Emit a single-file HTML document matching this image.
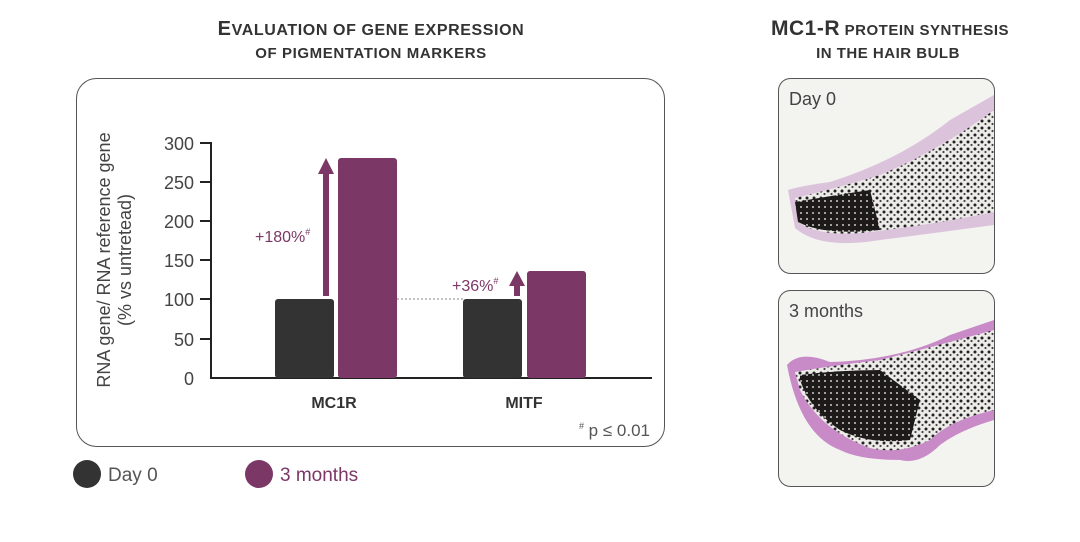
<!DOCTYPE html>
<html><head><meta charset="utf-8"><style>
body{margin:0;width:1080px;height:537px;background:#fff;overflow:hidden;font-family:"Liberation Sans",sans-serif;}
</style></head><body>
<svg width="1080" height="537" xmlns="http://www.w3.org/2000/svg" font-family="Liberation Sans, sans-serif">
<defs>
<pattern id="spk" width="7" height="7" patternUnits="userSpaceOnUse">
<rect width="7" height="7" fill="#ecebe8"/>
<circle cx="2" cy="2" r="1.5" fill="#222"/><circle cx="5.5" cy="5" r="1.1" fill="#444"/>
</pattern>
<pattern id="spk2" width="6" height="6" patternUnits="userSpaceOnUse">
<rect width="6" height="6" fill="#1d1a1a"/>
<circle cx="3" cy="3" r="1" fill="#cfc8c8"/>
</pattern>
</defs>
<!-- titles -->
<text x="371" y="35" text-anchor="middle" font-size="16" fill="#333" font-weight="bold" letter-spacing="0.6"><tspan font-size="20">E</tspan>VALUATION OF GENE EXPRESSION</text>
<text x="371" y="58" text-anchor="middle" font-size="15" fill="#333" font-weight="bold" letter-spacing="0.6">OF PIGMENTATION MARKERS</text>
<text x="890" y="35" text-anchor="middle" font-size="15" fill="#333" font-weight="bold" letter-spacing="0.5"><tspan font-size="21">MC1-R</tspan> PROTEIN SYNTHESIS</text>
<text x="888" y="58" text-anchor="middle" font-size="15" fill="#333" font-weight="bold" letter-spacing="0.5">IN THE HAIR BULB</text>
<!-- chart box -->
<rect x="76.5" y="78.5" width="588" height="368" rx="20" fill="#fff" stroke="#555" stroke-width="1"/>
<!-- y label -->
<g transform="translate(110,260) rotate(-90)" fill="#444" font-size="18" text-anchor="middle">
<text x="0" y="0">RNA gene/ RNA reference gene</text>
<text x="0" y="21">(% vs untretead)</text></g>
<!-- axes -->
<line x1="211" y1="142" x2="211" y2="379" stroke="#222" stroke-width="2"/>
<line x1="210" y1="378" x2="652" y2="378" stroke="#222" stroke-width="2"/>
<g stroke="#222" stroke-width="2">
<line x1="200" y1="143" x2="211" y2="143"/><line x1="200" y1="182" x2="211" y2="182"/>
<line x1="200" y1="221" x2="211" y2="221"/><line x1="200" y1="260" x2="211" y2="260"/>
<line x1="200" y1="299" x2="211" y2="299"/><line x1="200" y1="339" x2="211" y2="339"/></g>
<g font-size="18" fill="#444" text-anchor="end">
<text x="194" y="150">300</text><text x="194" y="189">250</text><text x="194" y="228">200</text>
<text x="194" y="267">150</text><text x="194" y="306">100</text><text x="194" y="346">50</text><text x="194" y="385">0</text></g>
<!-- bars -->
<rect x="275" y="299" width="59" height="79" rx="3" fill="#333"/>
<rect x="338" y="158" width="59" height="220" rx="3" fill="#7b3766"/>
<rect x="463" y="299" width="59" height="79" rx="3" fill="#333"/>
<rect x="527" y="271" width="59" height="107" rx="3" fill="#7b3766"/>
<line x1="397" y1="299" x2="463" y2="299" stroke="#888" stroke-dasharray="2,2"/>
<!-- arrows -->
<rect x="323" y="172" width="6" height="124" fill="#7b3766"/>
<polygon points="318,174 326,158 334,174" fill="#7b3766"/>
<rect x="514" y="285" width="6" height="11" fill="#7b3766"/>
<polygon points="509,286 517,271 525,286" fill="#7b3766"/>
<text x="255" y="242" font-size="16" fill="#7b3766">+180%<tspan font-size="9" dy="-7">#</tspan></text>
<text x="452" y="291" font-size="16" fill="#7b3766">+36%<tspan font-size="9" dy="-7">#</tspan></text>
<text x="334" y="408" text-anchor="middle" font-size="16" font-weight="bold" fill="#333">MC1R</text>
<text x="524" y="408" text-anchor="middle" font-size="16" font-weight="bold" fill="#333">MITF</text>
<text x="650" y="436" text-anchor="end" font-size="17" fill="#555"><tspan font-size="9" dy="-7">#</tspan><tspan dy="7"> p ≤ 0.01</tspan></text>
<!-- legend -->
<circle cx="87" cy="474" r="14" fill="#333"/>
<text x="108" y="481" font-size="19" fill="#555">Day 0</text>
<circle cx="259" cy="474" r="14" fill="#7b3766"/>
<text x="280" y="481" font-size="19" fill="#7b3766">3 months</text>
<!-- panel 1 -->
<clipPath id="c1"><rect x="778" y="78" width="216" height="195" rx="12"/></clipPath>
<clipPath id="c2"><rect x="778" y="290" width="216" height="196" rx="12"/></clipPath>
<g clip-path="url(#c1)">
<rect x="778" y="78" width="216" height="195" fill="#f3f4f0"/>
<path d="M788,190 Q800,186 830,182 Q900,160 950,120 L994,95 L994,225 Q920,235 880,240 Q820,250 795,228 Z" fill="#dcc3dc"/>
<path d="M795,198 Q830,190 880,175 Q940,150 994,110 L994,212 Q930,225 870,232 Q820,238 798,222 Z" fill="url(#spk)"/>
<path d="M795,202 Q830,196 870,190 L880,230 Q825,236 798,222 Z" fill="url(#spk2)"/>
</g>
<rect x="778.5" y="78.5" width="216" height="195" rx="12" fill="none" stroke="#555"/>
<text x="789" y="105" font-size="18" fill="#444">Day 0</text>
<g clip-path="url(#c2)">
<rect x="778" y="290" width="216" height="196" fill="#f3f4f0"/>
<path d="M787,365 Q800,350 830,362 Q900,360 950,335 L994,320 L994,420 Q960,430 940,445 Q920,465 900,460 Q860,460 840,450 Q800,435 787,365 Z" fill="#c98bc8"/>
<path d="M795,372 Q830,366 880,360 Q940,345 994,330 L994,410 Q950,420 930,440 Q900,455 870,448 Q820,430 800,390 Z" fill="url(#spk)"/>
<path d="M800,375 Q840,370 880,370 L920,400 L910,440 Q870,445 840,430 Q810,410 800,380 Z" fill="url(#spk2)"/>
</g>
<rect x="778.5" y="290.5" width="216" height="196" rx="12" fill="none" stroke="#555"/>
<text x="789" y="317" font-size="18" fill="#444">3 months</text>
</svg>
</body></html>
